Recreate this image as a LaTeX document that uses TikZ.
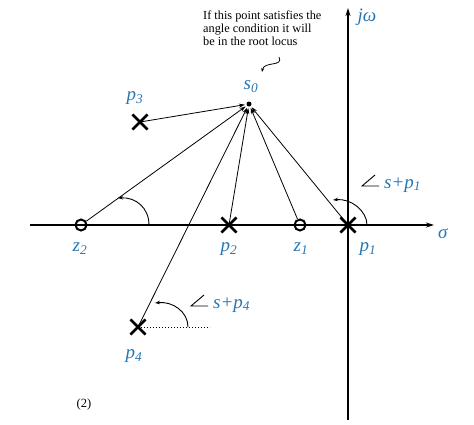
\documentclass[tikz,border=0pt]{standalone}
\usepackage{fontspec}
\setmainfont{Liberation Serif}
\usetikzlibrary{arrows.meta,shapes.misc}
\definecolor{labblue}{RGB}{38,118,178}
\newcommand{\sub}[2]{{\itshape #1}\textsubscript{\itshape #2}}
\begin{document}
\begin{tikzpicture}[x=1pt,y=-1pt,
  lab/.style={text=labblue,font=\fontsize{19}{19}\selectfont,inner sep=0pt},
  xmark/.style={cross out,draw=black,line width=2.6pt,minimum size=12.5pt,inner sep=0pt},
  omark/.style={circle,draw=black,line width=2pt,minimum size=11pt,inner sep=0pt},
  vec/.style={-{Stealth[length=6pt,width=4pt]},line width=0.8pt},
  axis/.style={-{Stealth[length=8pt,width=5pt]},line width=1.3pt},
  angarc/.style={-{Stealth[length=5pt,width=3.5pt]},line width=0.9pt},
  angsym/.style={line width=0.9pt}]
\useasboundingbox (0,0) rectangle (474,424);
% axes
\coordinate (sl) at (30,225);
\coordinate (sr) at (434,225);
\coordinate (jb) at (348,420);
\coordinate (jt) at (348,8);
\draw[axis] (sl) -- (sr);
\draw[axis] (jb) -- (jt);
\node[lab] (sig) at (443,234) {\textit{σ}};
\node[lab] (jw) at (367,17) {\textit{jω}};
% s0
\node[circle,fill=black,minimum size=5pt,inner sep=0pt] (s0) at (249,104) {};
\node[lab] (s0l) at (251,87) {\sub{s}{0}};
% poles and zeros
\node[omark] (z2) at (81,225) {};
\node[xmark] (p2) at (229,225) {};
\node[omark] (z1) at (300,225) {};
\node[xmark] (p1) at (348,225) {};
\node[xmark] (p3) at (140,122) {};
\node[xmark] (p4) at (138,327) {};
\node[lab] (z2l) at (80,249) {\sub{z}{2}};
\node[lab] (p2l) at (229,249) {\sub{p}{2}};
\node[lab] (z1l) at (301,249) {\sub{z}{1}};
\node[lab] (p1l) at (368,249) {\sub{p}{1}};
\node[lab] (p3l) at (135,98) {\sub{p}{3}};
\node[lab] (p4l) at (134,356) {\sub{p}{4}};
% vectors
\draw[vec,shorten >=1.5pt] (p3.center) -- (s0);
\draw[vec,shorten >=1.5pt] (z2) -- (s0);
\draw[vec,shorten >=1.5pt] (p4.center) -- (s0);
\draw[vec,shorten >=1.5pt] (p2.center) -- (s0);
\draw[vec,shorten >=1.5pt] (z1) -- (s0);
\draw[vec,shorten >=1.5pt] (p1.center) -- (s0);
% dotted reference line at p4
\coordinate (p4e) at (210,327);
\draw[dotted,line width=1pt] (p4.center) -- (p4e);
% angle arcs
\coordinate (a2s) at (149,225); \coordinate (a2e) at (118,198);
\draw[angarc] (a2s) .. controls (149,208) and (136,197) .. (a2e);
\coordinate (a1s) at (367,225); \coordinate (a1e) at (333,200);
\draw[angarc] (a1s) .. controls (367,211) and (351,198) .. (a1e);
\coordinate (a4s) at (188,327); \coordinate (a4e) at (155,303);
\draw[angarc] (a4s) .. controls (188,312) and (173,301) .. (a4e);
% angle labels
\coordinate (g1a) at (375,175); \coordinate (g1b) at (362,186); \coordinate (g1c) at (379,186);
\draw[angsym] (g1a) -- (g1b) -- (g1c);
\node[lab,anchor=base west] (ang1) at (384,188) {{\itshape s+p}\textsubscript{\itshape 1}};
\coordinate (g4a) at (204,295); \coordinate (g4b) at (191,306); \coordinate (g4c) at (208,306);
\draw[angsym] (g4a) -- (g4b) -- (g4c);
\node[lab,anchor=base west] (ang4) at (213,308) {{\itshape s+p}\textsubscript{\itshape 4}};
% note
\node[anchor=north west,align=left,inner sep=0pt,font=\fontsize{12.3}{13}\selectfont] (note) at (203,11)
 {If this point satisfies the\\angle condition it will\\be in the root locus};
\coordinate (qs) at (279,57); \coordinate (qe) at (262,72);
\draw[-{Stealth[length=4pt,width=3pt]},line width=0.8pt] (qs) .. controls (284,67) and (264,61) .. (qe);
\node[font=\fontsize{12.5}{14}\selectfont,inner sep=0pt] (num) at (84,404) {(2)};
\end{tikzpicture}
\end{document}
